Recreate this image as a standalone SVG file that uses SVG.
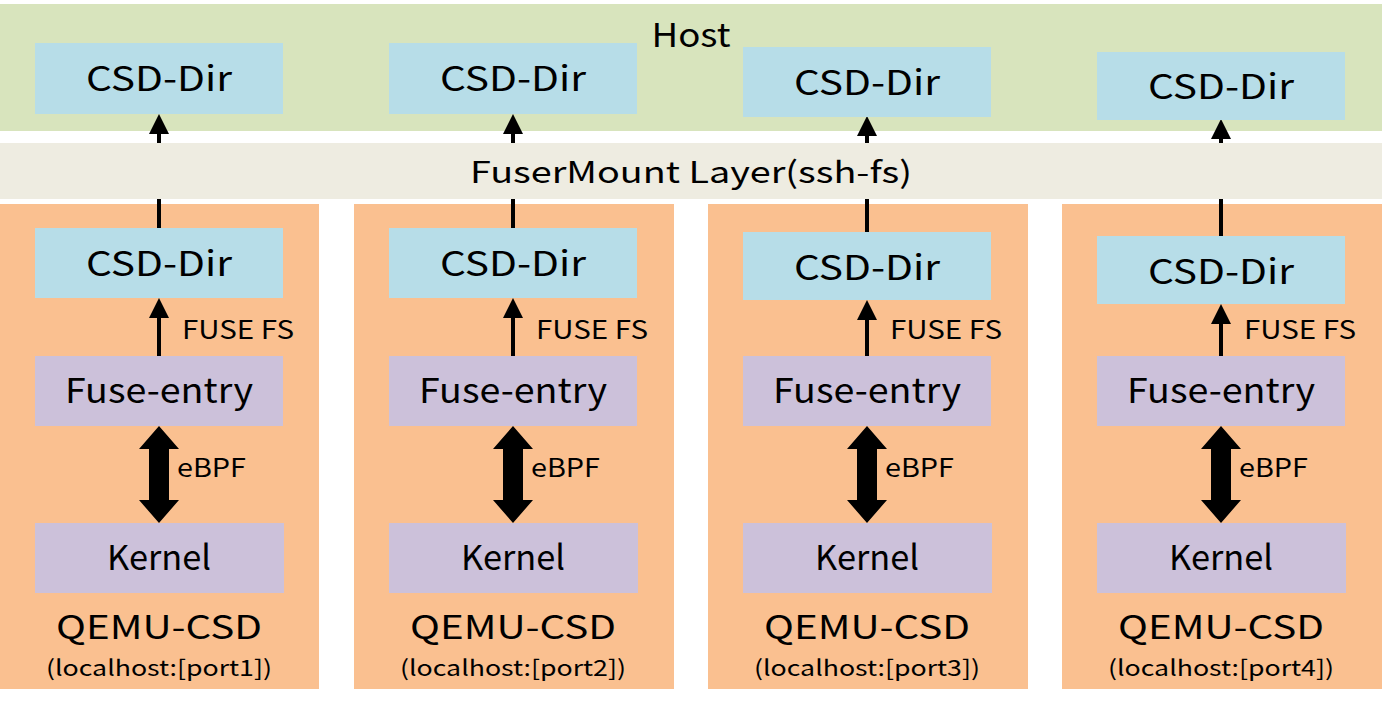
<svg xmlns="http://www.w3.org/2000/svg" width="1382" height="701" viewBox="0 0 1382 701">
<style>
text{font-family:"Noto Sans CJK KR","Noto Sans",sans-serif;fill:#000;text-anchor:middle}
.blue{fill:#b7dde8}.pur{fill:#ccc1da}.org{fill:#fac090}
.big{font-size:34px}.sm{font-size:25px;text-anchor:start}.q{font-size:33px}.p{font-size:22px}
.ln{stroke:#000;stroke-width:4;fill:none}
</style>
<defs>
<marker id="ah" markerWidth="5" markerHeight="5" refX="2.5" refY="2.5" orient="auto" markerUnits="strokeWidth"><path d="M0,0L5,2.5L0,5z"/></marker>
<g id="dbl"><path d="M0,0L20,23H10V74H20L0,97L-20,74H-10V23H-20z"/></g>
</defs>
<g id="host"><rect x="0" y="4" width="1382" height="127" fill="#d8e4bd"/><text x="691" y="47" style="font-size:33px" textLength="79" lengthAdjust="spacingAndGlyphs">Host</text></g>
<g id="columns">
<rect class="org" x="0" y="204" width="319" height="485"/>
<rect class="org" x="354" y="204" width="320" height="485"/>
<rect class="org" x="708" y="204" width="320" height="485"/>
<rect class="org" x="1062" y="204" width="320" height="485"/>
</g>
<g id="connectors">
<line class="ln" x1="159" y1="143" x2="159" y2="124" marker-end="url(#ah)"/>
<line class="ln" x1="513" y1="143" x2="513" y2="124" marker-end="url(#ah)"/>
<line class="ln" x1="867" y1="143" x2="867" y2="126" marker-end="url(#ah)"/>
<line class="ln" x1="1221" y1="143" x2="1221" y2="129" marker-end="url(#ah)"/>
<line class="ln" x1="159" y1="199" x2="159" y2="228"/>
<line class="ln" x1="513" y1="199" x2="513" y2="228"/>
<line class="ln" x1="867" y1="199" x2="867" y2="232"/>
<line class="ln" x1="1221" y1="199" x2="1221" y2="236"/>
<line class="ln" x1="159" y1="356" x2="159" y2="308" marker-end="url(#ah)"/>
<line class="ln" x1="513" y1="356" x2="513" y2="308" marker-end="url(#ah)"/>
<line class="ln" x1="867" y1="356" x2="867" y2="310" marker-end="url(#ah)"/>
<line class="ln" x1="1221" y1="356" x2="1221" y2="314" marker-end="url(#ah)"/>
<use href="#dbl" x="159" y="426"/><use href="#dbl" x="513" y="426"/><use href="#dbl" x="867" y="426"/><use href="#dbl" x="1221" y="426"/>
<text class="sm" x="182" y="339" textLength="112" lengthAdjust="spacingAndGlyphs">FUSE FS</text><text class="sm" x="536" y="339" textLength="112" lengthAdjust="spacingAndGlyphs">FUSE FS</text><text class="sm" x="890" y="339" textLength="112" lengthAdjust="spacingAndGlyphs">FUSE FS</text><text class="sm" x="1244" y="339" textLength="112" lengthAdjust="spacingAndGlyphs">FUSE FS</text>
<text class="sm" x="177" y="477" textLength="69" lengthAdjust="spacingAndGlyphs">eBPF</text><text class="sm" x="531" y="477" textLength="69" lengthAdjust="spacingAndGlyphs">eBPF</text><text class="sm" x="885" y="477" textLength="69" lengthAdjust="spacingAndGlyphs">eBPF</text><text class="sm" x="1239" y="477" textLength="69" lengthAdjust="spacingAndGlyphs">eBPF</text>
</g>
<g id="fuser"><rect x="0" y="143" width="1382" height="56" fill="#eeece1"/><text x="691" y="183" style="font-size:30px" textLength="442" lengthAdjust="spacingAndGlyphs">FuserMount Layer(ssh-fs)</text></g>
<g id="hostdirs">
<rect class="blue" x="35" y="43" width="248" height="71"/><text class="big" x="159" y="91" textLength="146" lengthAdjust="spacingAndGlyphs">CSD-Dir</text>
<rect class="blue" x="389" y="43" width="248" height="71"/><text class="big" x="513" y="91" textLength="146" lengthAdjust="spacingAndGlyphs">CSD-Dir</text>
<rect class="blue" x="743" y="47" width="248" height="70"/><text class="big" x="867" y="95" textLength="146" lengthAdjust="spacingAndGlyphs">CSD-Dir</text>
<rect class="blue" x="1097" y="52" width="248" height="68"/><text class="big" x="1221" y="99" textLength="146" lengthAdjust="spacingAndGlyphs">CSD-Dir</text>
</g>
<g id="vmdirs">
<rect class="blue" x="35" y="228" width="248" height="70"/><text class="big" x="159" y="276" textLength="146" lengthAdjust="spacingAndGlyphs">CSD-Dir</text>
<rect class="blue" x="389" y="228" width="248" height="70"/><text class="big" x="513" y="276" textLength="146" lengthAdjust="spacingAndGlyphs">CSD-Dir</text>
<rect class="blue" x="743" y="232" width="248" height="68"/><text class="big" x="867" y="280" textLength="146" lengthAdjust="spacingAndGlyphs">CSD-Dir</text>
<rect class="blue" x="1097" y="236" width="248" height="68"/><text class="big" x="1221" y="284" textLength="146" lengthAdjust="spacingAndGlyphs">CSD-Dir</text>
</g>
<g id="fuseentry">
<rect class="pur" x="35" y="356" width="248" height="70"/><text class="big" x="159" y="403" textLength="188" lengthAdjust="spacingAndGlyphs">Fuse-entry</text>
<rect class="pur" x="389" y="356" width="248" height="70"/><text class="big" x="513" y="403" textLength="188" lengthAdjust="spacingAndGlyphs">Fuse-entry</text>
<rect class="pur" x="743" y="356" width="248" height="70"/><text class="big" x="867" y="403" textLength="188" lengthAdjust="spacingAndGlyphs">Fuse-entry</text>
<rect class="pur" x="1097" y="356" width="248" height="70"/><text class="big" x="1221" y="403" textLength="188" lengthAdjust="spacingAndGlyphs">Fuse-entry</text>
</g>
<g id="kernel">
<rect class="pur" x="35" y="523" width="249" height="70"/><text class="big" x="159" y="570" textLength="104" lengthAdjust="spacingAndGlyphs">Kernel</text>
<rect class="pur" x="389" y="523" width="249" height="70"/><text class="big" x="513" y="570" textLength="104" lengthAdjust="spacingAndGlyphs">Kernel</text>
<rect class="pur" x="743" y="523" width="249" height="70"/><text class="big" x="867" y="570" textLength="104" lengthAdjust="spacingAndGlyphs">Kernel</text>
<rect class="pur" x="1097" y="523" width="249" height="70"/><text class="big" x="1221" y="570" textLength="104" lengthAdjust="spacingAndGlyphs">Kernel</text>
</g>
<g id="labels">
<text class="q" x="159" y="639" textLength="206" lengthAdjust="spacingAndGlyphs">QEMU-CSD</text><text class="p" x="159" y="676" textLength="226" lengthAdjust="spacingAndGlyphs">(localhost:[port1])</text>
<text class="q" x="513" y="639" textLength="206" lengthAdjust="spacingAndGlyphs">QEMU-CSD</text><text class="p" x="513" y="676" textLength="226" lengthAdjust="spacingAndGlyphs">(localhost:[port2])</text>
<text class="q" x="867" y="639" textLength="206" lengthAdjust="spacingAndGlyphs">QEMU-CSD</text><text class="p" x="867" y="676" textLength="226" lengthAdjust="spacingAndGlyphs">(localhost:[port3])</text>
<text class="q" x="1221" y="639" textLength="206" lengthAdjust="spacingAndGlyphs">QEMU-CSD</text><text class="p" x="1221" y="676" textLength="226" lengthAdjust="spacingAndGlyphs">(localhost:[port4])</text>
</g>
</svg>
